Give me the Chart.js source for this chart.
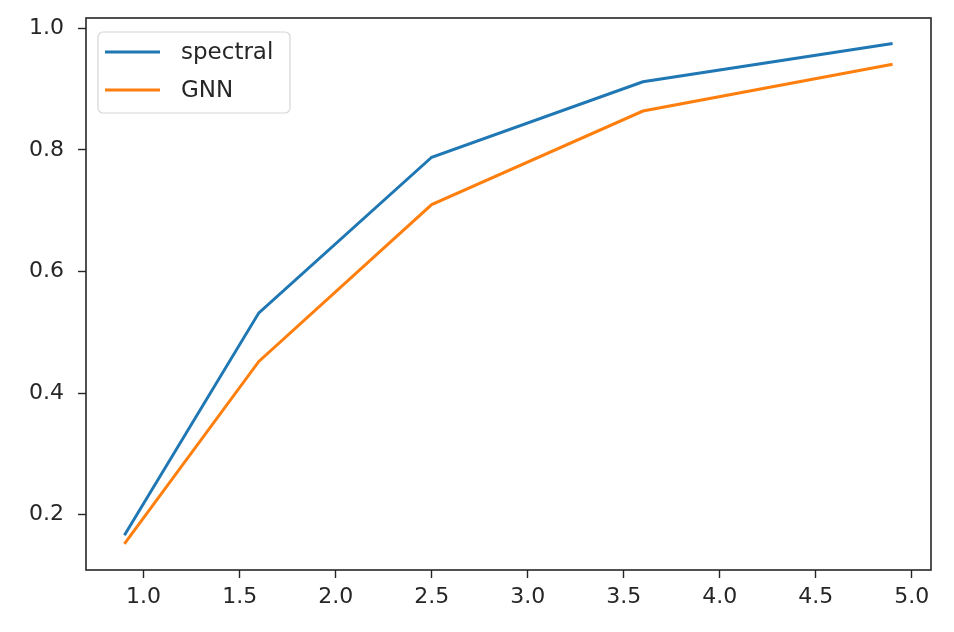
<!DOCTYPE html>
<html>
<head>
<meta charset="utf-8">
<script src="https://cdn.jsdelivr.net/npm/chart.js@4.4.0/dist/chart.umd.min.js"></script>
<style>
  html, body { margin: 0; padding: 0; background: #fff; }
  #wrap { width: 954px; height: 632px; }
</style>
</head>
<body>
<div id="wrap"><canvas id="lineChart" width="954" height="632"></canvas></div>
<script>
const xValues = [0.9, 1.6, 2.5, 3.6, 4.9];
const spectral = [0.166, 0.532, 0.788, 0.912, 0.975];
const gnn = [0.152, 0.452, 0.710, 0.864, 0.941];
const xTicks = [1.0, 1.5, 2.0, 2.5, 3.0, 3.5, 4.0, 4.5, 5.0];
const yTicks = [0.2, 0.4, 0.6, 0.8, 1.0];

const font = "'DejaVu Sans', sans-serif";
const textColor = "#262626";

// matplotlib-style frame and in-axes legend
const framePlugin = {
    id: "frame",
    afterDraw(chart) {
        const { ctx, chartArea: a } = chart;
        ctx.save();
        ctx.strokeStyle = "#262626";
        ctx.lineWidth = 1.6;
        ctx.strokeRect(a.left, a.top, a.right - a.left, a.bottom - a.top);

        const x0 = a.left + 12, y0 = a.top + 14, w = 192, h = 81;
        ctx.fillStyle = "rgba(255,255,255,0.8)";
        ctx.strokeStyle = "#d6d6d6";
        ctx.lineWidth = 1.2;
        ctx.beginPath();
        ctx.roundRect(x0, y0, w, h, 5);
        ctx.fill();
        ctx.stroke();

        ctx.font = "23px " + font;
        ctx.textBaseline = "middle";
        chart.data.datasets.forEach((ds, i) => {
            const y = y0 + 20 + i * 38;
            ctx.strokeStyle = ds.borderColor;
            ctx.lineWidth = 3;
            ctx.beginPath();
            ctx.moveTo(x0 + 7, y);
            ctx.lineTo(x0 + 62, y);
            ctx.stroke();
            ctx.fillStyle = textColor;
            ctx.fillText(ds.label, x0 + 83, y + 1);
        });
        ctx.restore();
    }
};

new Chart(document.getElementById("lineChart"), {
    type: "line",
    data: {
        datasets: [
            {
                label: "spectral",
                data: xValues.map((x, i) => ({ x: x, y: spectral[i] })),
                borderColor: "#1f77b4",
                borderWidth: 3,
                pointRadius: 0,
                tension: 0
            },
            {
                label: "GNN",
                data: xValues.map((x, i) => ({ x: x, y: gnn[i] })),
                borderColor: "#ff7f0e",
                borderWidth: 3,
                pointRadius: 0,
                tension: 0
            }
        ]
    },
    options: {
        responsive: false,
        animation: false,
        layout: { padding: { left: 0, right: 23, top: 18, bottom: 0 } },
        plugins: {
            legend: { display: false },
            tooltip: { enabled: false }
        },
        scales: {
            x: {
                type: "linear",
                min: 0.7,
                max: 5.1,
                afterBuildTicks: s => { s.ticks = xTicks.map(v => ({ value: v })); },
                afterFit: s => { s.height = 62; s.paddingLeft = 0; s.paddingRight = 0; },
                grid: { drawOnChartArea: false, tickLength: 8, color: "#262626", tickWidth: 1.4 },
                border: { display: false },
                ticks: {
                    color: textColor,
                    font: { family: font, size: 22 },
                    padding: 6,
                    maxRotation: 0,
                    callback: v => v.toFixed(1)
                }
            },
            y: {
                min: 0.109,
                max: 1.017,
                afterBuildTicks: s => { s.ticks = yTicks.map(v => ({ value: v })); },
                afterFit: s => { s.width = 86; s.paddingTop = 0; s.paddingBottom = 0; },
                grid: { drawOnChartArea: false, tickLength: 8, color: "#262626", tickWidth: 1.4 },
                border: { display: false },
                ticks: {
                    color: textColor,
                    font: { family: font, size: 22 },
                    padding: 14,
                    callback: v => v.toFixed(1)
                }
            }
        }
    },
    plugins: [framePlugin]
});
</script>
</body>
</html>
